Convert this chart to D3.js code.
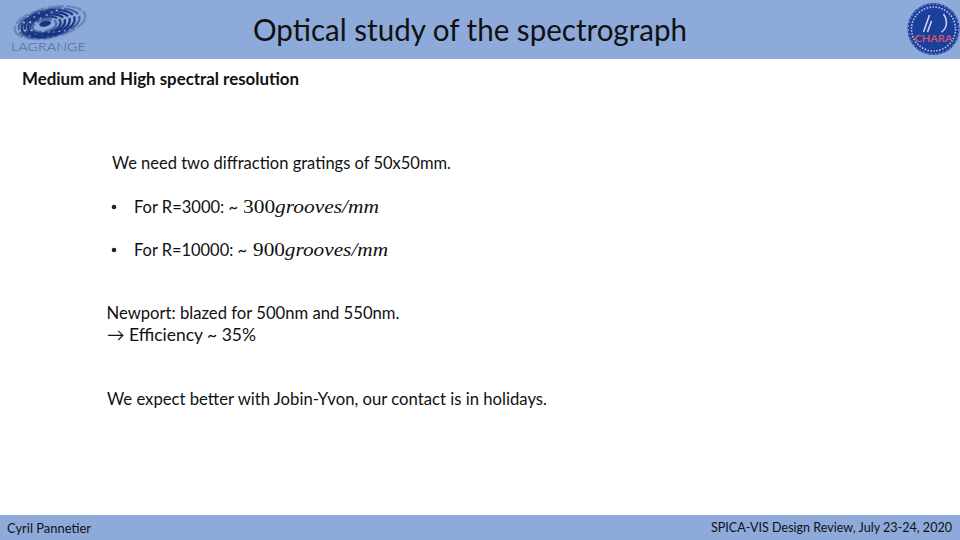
<!DOCTYPE html>
<html>
<head>
<meta charset="utf-8">
<script src="https://cdnjs.cloudflare.com/ajax/libs/d3/7.8.5/d3.min.js"></script>
<style>
  html, body { margin: 0; padding: 0; background: #fff; }
  text { font-family: Lato, "Open Sans", sans-serif; fill: #111; }
</style>
</head>
<body>
<div id="slide"></div>
<script>
// slide texts
var titleText = "Optical study of the spectrograph";
var subTitle = "Medium and High spectral resolution";
var footLeft = "Cyril Pannetier";
var footRight = "SPICA-VIS Design Review, July 23-24, 2020";
var bodyLines = [
  "We need two diffraction gratings of 50x50mm.",
  "Newport: blazed for 500nm and 550nm.",
  "\u2192 Efficiency ~ 35%",
  "We expect better with Jobin-Yvon, our contact is in holidays."
];
var bodyWidths = [339, 293, 149, 440];
var bulletLabels = ["For R=3000: ~", "For R=10000: ~"];
var bulletNumbers = ["300", "900"];
var bulletUnit = "grooves/mm";

var width = 960, height = 540;
var bandColor = "#8eaadb";

var svg = d3.select("#slide").append("svg")
  .attr("width", width)
  .attr("height", height)
  .style("display", "block");

svg.append("rect").attr("width", width).attr("height", height).attr("fill", "#fff");

// header and footer bands
svg.append("rect").attr("width", width).attr("height", 59).attr("fill", bandColor);
svg.append("rect").attr("y", 515).attr("width", width).attr("height", 25).attr("fill", bandColor);

svg.append("text")
  .attr("x", 253).attr("y", 41)
  .attr("font-size", 31)
  .attr("textLength", 434)
  .attr("lengthAdjust", "spacingAndGlyphs")
  .text(titleText);

svg.append("text")
  .attr("x", 22).attr("y", 85)
  .attr("font-size", 16.5)
  .attr("font-weight", 700)
  .attr("textLength", 277)
  .attr("lengthAdjust", "spacingAndGlyphs")
  .text(subTitle);

// body
var bodyX = [112, 106.5, 107, 107];
var bodyY = [169, 319, 341, 405];
svg.selectAll("text.body")
  .data(bodyLines)
  .enter()
  .append("text")
  .attr("class", "body")
  .attr("x", (d, i) => bodyX[i])
  .attr("y", (d, i) => bodyY[i])
  .attr("font-size", 17.5)
  .attr("textLength", (d, i) => bodyWidths[i])
  .attr("lengthAdjust", "spacingAndGlyphs")
  .text(d => d);

// bullets with the math part in italics
var bulletY = [213, 256];
var bulletLabelW = [104, 113];
var bulletMathX = [243, 253];
var bulletMathW = [136, 135];
bulletLabels.forEach(function(label, i) {
  svg.append("circle")
    .attr("cx", 114).attr("cy", bulletY[i] - 6).attr("r", 2.3).attr("fill", "#222");
  svg.append("text")
    .attr("x", 134).attr("y", bulletY[i])
    .attr("font-size", 17.5)
    .attr("textLength", bulletLabelW[i])
    .attr("lengthAdjust", "spacingAndGlyphs")
    .text(label);
  var math = svg.append("text")
    .attr("x", bulletMathX[i]).attr("y", bulletY[i])
    .attr("font-size", 18.5)
    .attr("textLength", bulletMathW[i])
    .attr("lengthAdjust", "spacingAndGlyphs")
    .style("font-family", "'Liberation Serif', serif");
  math.append("tspan").text(bulletNumbers[i]);
  math.append("tspan").attr("font-style", "italic").text(bulletUnit);
});

// footer
svg.append("text")
  .attr("x", 7).attr("y", 533)
  .attr("font-size", 13)
  .attr("textLength", 84)
  .attr("lengthAdjust", "spacingAndGlyphs")
  .text(footLeft);

svg.append("text")
  .attr("x", 711).attr("y", 532)
  .attr("font-size", 13)
  .attr("textLength", 241)
  .attr("lengthAdjust", "spacingAndGlyphs")
  .text(footRight);

// Lagrange logo: tilted rings around a dark core
var logo = svg.append("g").attr("transform", "translate(48,23) rotate(-12)");
var ringRx = [36, 31, 27, 23, 19, 15.5, 12];
var ringRy = [15, 13.5, 12.5, 11, 9.5, 8, 6];
var ringOpacity = [0.3, 0.6, 0.95, 1, 1, 0.9, 0.55];
logo.selectAll("ellipse.ring")
  .data(ringRx)
  .enter()
  .append("ellipse")
  .attr("class", "ring")
  .attr("cx", (d, i) => -i * 1.0 + 2)
  .attr("cy", (d, i) => i * 0.3)
  .attr("rx", d => d)
  .attr("ry", (d, i) => ringRy[i])
  .attr("fill", "none")
  .attr("stroke", "#16347f")
  .attr("stroke-width", 2.3)
  .attr("stroke-dasharray", "16 2")
  .attr("stroke-opacity", (d, i) => ringOpacity[i]);
logo.append("ellipse").attr("cx", -3).attr("cy", 0).attr("rx", 6).attr("ry", 3)
  .attr("fill", "#16347f");

svg.append("text")
  .attr("x", 11).attr("y", 51)
  .attr("font-size", 11)
  .attr("font-weight", 300)
  .attr("textLength", 75)
  .attr("lengthAdjust", "spacingAndGlyphs")
  .style("fill", "#4a5f8e")
  .text("LAGRANGE");

// CHARA logo
var chara = svg.append("g").attr("transform", "translate(933.5,29)");
chara.append("circle").attr("r", 26).attr("fill", "#1c3f9c");
chara.append("circle").attr("r", 22).attr("fill", "none")
  .attr("stroke", "#b9c8ea").attr("stroke-width", 1.6).attr("stroke-dasharray", "1.5 1.5");
chara.append("circle").attr("r", 25).attr("fill", "none")
  .attr("stroke", "#9fb4e2").attr("stroke-width", 0.8).attr("stroke-dasharray", "2 2");
chara.append("path").attr("d", "M-10,3 L-4,-14 M-6,3 L-2,-8 M10,-15 C15,-8 13,0 8,3")
  .attr("fill", "none").attr("stroke", "#c6d2ee").attr("stroke-width", 1.6);
chara.append("text")
  .attr("x", 0).attr("y", 13)
  .attr("text-anchor", "middle")
  .attr("font-size", 9)
  .attr("font-weight", 700)
  .attr("textLength", 38)
  .attr("lengthAdjust", "spacingAndGlyphs")
  .style("fill", "#c9586e")
  .text("CHARA");
</script>
</body>
</html>
